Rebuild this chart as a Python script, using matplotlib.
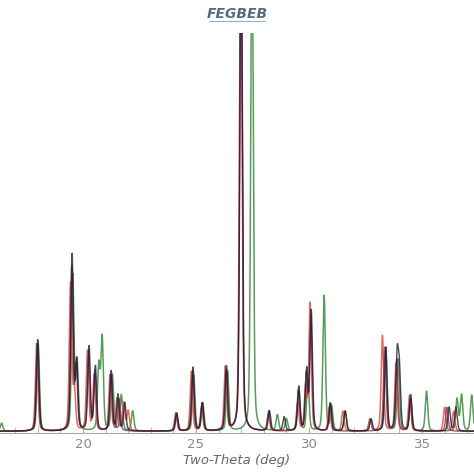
import numpy as np
import matplotlib.pyplot as plt

# peak positions (deg) and relative heights for each simulated pattern
red_pos = [17.95, 19.45, 19.62, 20.2, 20.5, 21.2, 21.5, 21.8, 22.0, 24.1, 24.8, 25.25, 26.3, 26.98,
           28.2, 29.5, 29.85, 30.05, 30.9, 31.5, 32.7, 33.25, 33.85, 34.45, 36.0, 36.4]
red_h = [22, 37, 10, 20, 14, 14, 8, 7, 5, 4.5, 15, 6, 16, 130,
         4, 7, 11, 32, 6, 5, 3, 24, 17, 9, 6, 5]
black_pos = [18.0, 19.52, 19.72, 20.27, 20.55, 21.25, 21.55, 21.85, 24.15, 24.87, 25.28, 26.35, 27.0,
             28.25, 28.9, 29.55, 29.9, 30.1, 30.95, 31.6, 32.75, 33.4, 33.9, 34.0, 34.5, 36.2, 36.5]
black_h = [23, 44, 17, 21, 16, 15, 9, 7, 4.5, 16, 7, 16, 130,
           5, 3.5, 11, 15, 30, 7, 5, 3, 21, 18, 14, 9, 6, 6]
purple_pos = [17.98, 19.5, 19.7, 20.25, 20.53, 21.23, 21.6, 24.13, 24.85, 25.27, 26.33, 26.99,
              28.22, 29.53, 29.88, 30.08, 30.93, 33.35, 33.88, 34.48, 36.1]
purple_h = [22, 41, 16, 20, 15, 14, 8, 4.5, 15, 7, 15, 130,
            5, 10, 14, 29, 7, 21, 18, 8, 6]
green_pos = [16.4, 18.02, 19.55, 19.74, 20.7, 20.85, 21.3, 21.7, 22.2, 24.15, 24.9, 25.3, 26.4, 27.48,
             28.6, 29.0, 29.55, 29.95, 30.67, 31.0, 31.6, 32.7, 33.4, 33.95, 34.5, 35.2, 36.55, 36.75, 37.2]
green_h = [2, 22, 39, 17, 16, 23, 14, 9, 5, 4, 14, 7, 15, 130,
           4, 3, 10, 13, 34, 6, 5, 3, 20, 18, 8, 10, 8, 9, 9]

x = np.linspace(16.3, 37.3, 6000)


def pattern(pos, h, w=0.065, eta=0.35):
    y = np.zeros_like(x)
    for p, a in zip(pos, h):
        d = (x - p) / w
        y += a * (eta / (1 + d ** 2) + (1 - eta) * np.exp(-np.log(2) * d ** 2))
    return y


fig = plt.figure(figsize=(4.74, 4.74), dpi=100)
ax = fig.add_axes([0, 0.086, 1, 0.844])

ax.plot(x, pattern(green_pos, green_h), color='#3c8a3c', lw=1.1, alpha=0.85)
ax.plot(x, pattern(red_pos, red_h), color='#e8503a', lw=1.1, alpha=0.85)
ax.plot(x, pattern(purple_pos, purple_h), color='#8a2a6a', lw=1.0, alpha=0.8)
ax.plot(x, pattern(black_pos, black_h), color='#1a2030', lw=1.0, alpha=0.8)

ax.set_xlim(16.33, 37.3)
ax.set_ylim(-0.5, 100)
ax.set_xticks([20, 25, 30, 35])
ax.set_xticks(range(17, 38), minor=True)
ax.tick_params(axis='x', which='both', direction='in', length=4, colors='#aaaaaa',
               labelcolor='#888888', labelsize=9.5)
ax.set_yticks([])
for s in ('top', 'right', 'left'):
    ax.spines[s].set_visible(False)
ax.spines['bottom'].set_color('#aaaaaa')
ax.set_xlabel('Two-Theta (deg)', fontstyle='italic', color='#666666', fontsize=9.5, labelpad=2)

fig.text(0.5, 0.985, 'FEGBEB', ha='center', va='top', fontsize=10, fontweight='bold',
         fontstyle='italic', color='#5a6a7a')
fig.add_artist(plt.Line2D([0.44, 0.56], [0.956, 0.956], color='#6a8aaa', lw=0.8, alpha=0.7))

fig.savefig('out.png', dpi=100)
